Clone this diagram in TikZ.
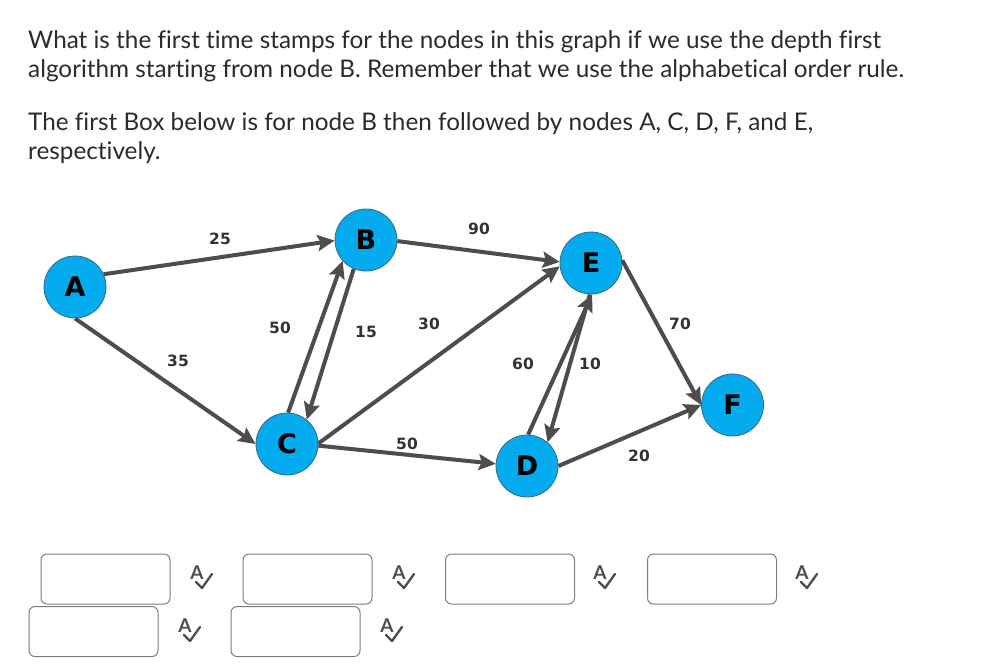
\documentclass[tikz,border=0pt]{standalone}
\usepackage{fontspec}
\setmainfont[Ligatures=NoCommon]{Lato}
\newfontfamily\graphfont{DejaVu Sans Bold}
\usetikzlibrary{arrows.meta}
\definecolor{nodeblue}{HTML}{04ABEE}
\definecolor{edgegray}{HTML}{4D4D4D}
\definecolor{boxgray}{HTML}{7F7F7F}
\definecolor{bodytext}{HTML}{2B2B2B}
\tikzset{
  x=1pt,y=-1pt,
  vertex/.style={circle,draw=edgegray!70!nodeblue,line width=.8pt,fill=nodeblue,minimum size=62pt,inner sep=0pt,font=\graphfont\fontsize{27}{27}\selectfont,text=black},
  edge/.style={draw=edgegray,line width=4pt,-{Stealth[length=17pt,width=16pt,inset=3pt]}},
  weight/.style={font=\graphfont\fontsize{15.5}{15.5}\selectfont,text=black!80,inner sep=0pt},
  para/.style={anchor=base west,inner sep=0pt,text=bodytext,font=\fontsize{24.3}{24.3}\selectfont},
  answer/.style={draw=boxgray,line width=1pt,rounded corners=6pt,minimum width=129pt,minimum height=50pt,inner sep=0pt,fill=white},
  tickA/.style={font=\bfseries\fontsize{19}{19}\selectfont,text=edgegray,inner sep=0pt},
  tickmark/.style={draw=edgegray,line width=2.3pt,line cap=round,line join=round},
}
\newcommand{\gradeicon}[3]{%
  \node[tickA] (#3) at (#1-4,#2-5) {A};
  \draw[tickmark] (#1-5,#2+4) -- (#1+1,#2+10) -- (#1+11,#2-4);
}
\begin{document}
\begin{tikzpicture}
\useasboundingbox[fill=white] (0,0) rectangle (1008,670);
\node[para] (l1) at (28,48) {What is the first time stamps for the nodes in this graph if we use the depth first};
\node[para] (l2) at (28,77) {algorithm starting from node B. Remember that we use the alphabetical order rule.};
\node[para] (l3) at (28,130) {The first Box below is for node B then followed by nodes A, C, D, F, and E,};
\node[para] (l4) at (28,159) {respectively.};

\node[vertex] (A) at (75,287) {A};
\node[vertex] (B) at (366,240) {B};
\node[vertex] (E) at (591,263) {E};
\node[vertex] (C) at (287,444) {C};
\node[vertex] (D) at (527,466) {D};
\node[vertex] (F) at (732.5,405) {F};

\draw[edge] (A.24) -- (B.181);
\draw[edge] (A.270) -- (C.180);
\draw[edge] (B.-2) -- (E.178);
\draw[edge] (C.88) -- (B.222);
\draw[edge] (B.247) -- (C.51);
\draw[edge] (C.1) -- (E.186);
\draw[edge] (C.-3) -- (D.176);
\draw[edge] (D.88) -- (E.272);
\draw[edge] (E.268) -- (D.49);
\draw[edge] (E.5) -- (F.180);
\draw[edge] (D.0) -- (F.180);

\node[weight] (w1) at (220,239) {25};
\node[weight] (w2) at (178,361) {35};
\node[weight] (w3) at (280,328) {50};
\node[weight] (w4) at (366,332) {15};
\node[weight] (w5) at (429,324) {30};
\node[weight] (w6) at (479,229) {90};
\node[weight] (w7) at (407,444) {50};
\node[weight] (w8) at (523,364) {60};
\node[weight] (w9) at (590,364) {10};
\node[weight] (w10) at (639,456) {20};
\node[weight] (w11) at (680,324) {70};

\node[answer] (b1) at (105.5,579) {};
\node[answer] (b2) at (307.5,579) {};
\node[answer] (b3) at (510,579) {};
\node[answer] (b4) at (712,579) {};
\node[answer] (b5) at (93.5,631.5) {};
\node[answer] (b6) at (295.5,631.5) {};

\gradeicon{201}{578}{i1}
\gradeicon{403}{578}{i2}
\gradeicon{604}{578}{i3}
\gradeicon{806}{578}{i4}
\gradeicon{189}{631}{i5}
\gradeicon{391}{631}{i6}
\end{tikzpicture}
\end{document}
